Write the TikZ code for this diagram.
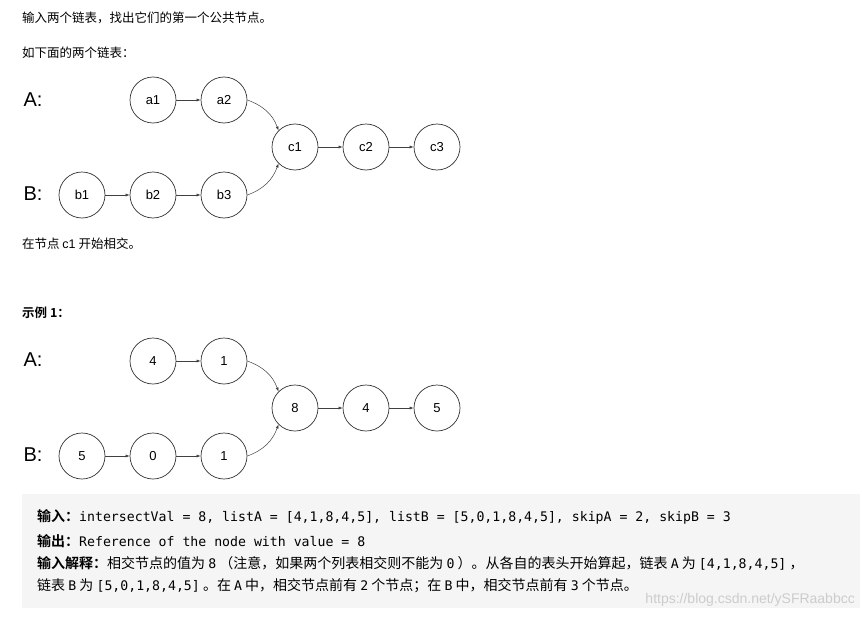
\documentclass[tikz,border=0pt]{standalone}
\usepackage{fontspec}
\setmainfont{Liberation Sans}
\newfontfamily\cjk{Noto Sans CJK SC}
\newfontfamily\cjkb{Noto Sans CJK SC Bold}
\setmonofont{DejaVu Sans Mono}
\usetikzlibrary{arrows.meta}
\newcommand{\mt}[1]{\ \texttt{\fontsize{13.2}{13}\selectfont #1}\ }
\begin{document}
\begin{tikzpicture}[x=1pt,y=-1pt,
  nd/.style={circle,draw=black!80,line width=0.7pt,minimum size=46pt,inner sep=0pt,font=\fontsize{13}{13}\selectfont},
  ar/.style={-{Latex[length=4pt,width=3pt]},line width=0.5pt,black!75},
  lab/.style={font=\fontsize{20}{20}\selectfont,anchor=west},
  tx/.style={anchor=west,font=\cjk\fontsize{12.5}{13}\selectfont,inner sep=0pt},
  bx/.style={anchor=west,font=\cjk\fontsize{14}{14}\selectfont,inner sep=0pt}]
\useasboundingbox (0,0) rectangle (862,618);
\fill[white] (0,0) rectangle (862,618);
\node[tx] (t1) at (22,18) {输入两个链表，找出它们的第一个公共节点。};
\node[tx] (t2) at (22,53) {如下面的两个链表：};
\node[lab] (LA) at (20,100) {A:};
\node[lab] (LB) at (20,194) {B:};
\node[nd] (a1) at (153,100) {a1};
\node[nd] (a2) at (224,100) {a2};
\node[nd] (c1) at (295,147) {c1};
\node[nd] (c2) at (366,147) {c2};
\node[nd] (c3) at (437,147) {c3};
\node[nd] (b1) at (82,195) {b1};
\node[nd] (b2) at (153,195) {b2};
\node[nd] (b3) at (224,195) {b3};
\draw[ar] (a1) -- (a2);
\draw[ar] (c1) -- (c2);
\draw[ar] (c2) -- (c3);
\draw[ar] (b1) -- (b2);
\draw[ar] (b2) -- (b3);
\draw[ar] (a2.east) to[out=-20,in=110] (c1.north west);
\draw[ar] (b3.east) to[out=20,in=-110] (c1.south west);
\node[tx] (t3) at (22,244) {在节点 \textrm{c1} 开始相交。};
\node[tx] (t4) at (22,313) {\cjkb 示例 1：};
\node[lab] (LA2) at (20,360) {A:};
\node[lab] (LB2) at (20,455) {B:};
\node[nd] (n4) at (153,361) {4};
\node[nd] (n1) at (224,361) {1};
\node[nd] (n8) at (295,408) {8};
\node[nd] (m4) at (366,408) {4};
\node[nd] (m5) at (437,408) {5};
\node[nd] (p5) at (82,456) {5};
\node[nd] (p0) at (153,456) {0};
\node[nd] (p1) at (224,456) {1};
\draw[ar] (n4) -- (n1);
\draw[ar] (n8) -- (m4);
\draw[ar] (m4) -- (m5);
\draw[ar] (p5) -- (p0);
\draw[ar] (p0) -- (p1);
\draw[ar] (n1.east) to[out=-20,in=110] (n8.north west);
\draw[ar] (p1.east) to[out=20,in=-110] (n8.south west);
\fill[black!4] (22,494) rectangle (860,608);
\node[bx] (l1) at (37,517) {{\cjkb 输入：}\texttt{\fontsize{13.2}{13}\selectfont intersectVal = 8, listA = [4,1,8,4,5], listB = [5,0,1,8,4,5], skipA = 2, skipB = 3}};
\node[bx] (l2) at (37,541) {{\cjkb 输出：}\texttt{\fontsize{13.2}{13}\selectfont Reference of the node with value = 8}};
\node[bx] (l3) at (37,563) {{\cjkb 输入解释：}相交节点的值为\mt{8}（注意，如果两个列表相交则不能为\mt{0}）。从各自的表头开始算起，链表\mt{A}为\mt{[4,1,8,4,5]}，};
\node[bx] (l4) at (37,586) {链表\mt{B}为\mt{[5,0,1,8,4,5]}。在\mt{A}中，相交节点前有\mt{2}个节点；在\mt{B}中，相交节点前有\mt{3}个节点。};
\node[anchor=east,inner sep=0pt,text=black!20,font=\fontsize{14}{14}\selectfont] (wm) at (855,600) {https://blog.csdn.net/ySFRaabbcc};
\end{tikzpicture}
\end{document}
